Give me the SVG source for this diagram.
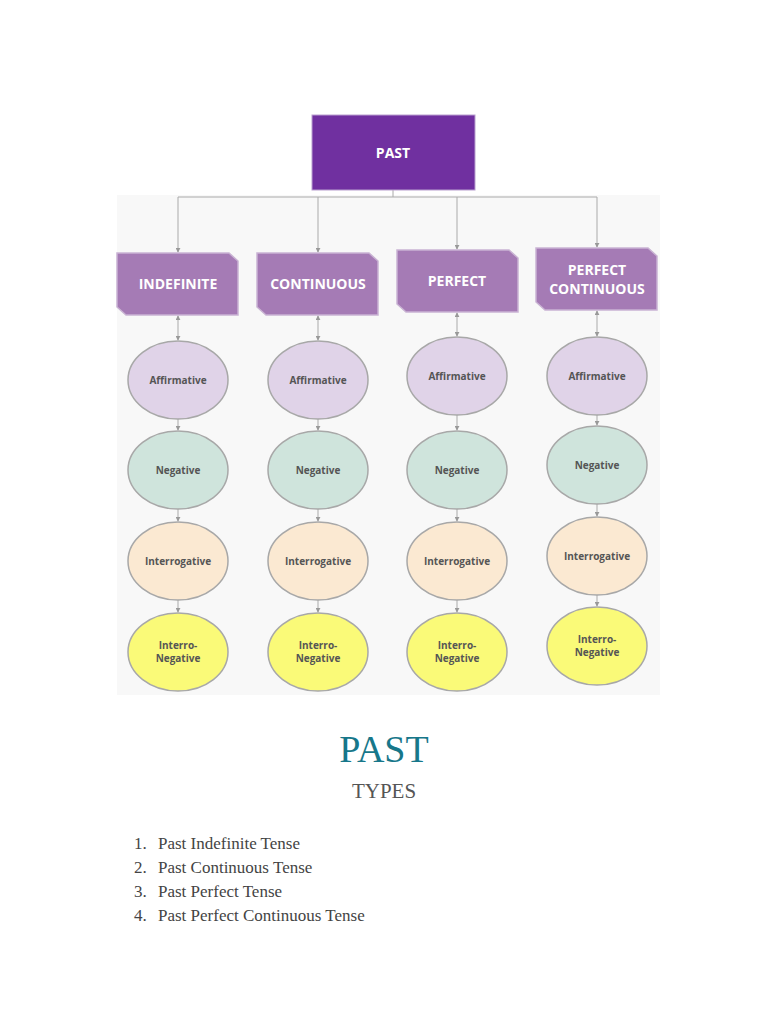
<svg xmlns="http://www.w3.org/2000/svg" width="768" height="1024" viewBox="0 0 768 1024">
<defs>
<marker id="ar" viewBox="0 0 6 6" refX="5" refY="3" markerWidth="5" markerHeight="5" orient="auto-start-reverse"><path d="M0,0L6,3L0,6z" fill="#999"/></marker>
<style>
.c{stroke:#aaa;stroke-width:1;fill:none}
.a{marker-end:url(#ar)}
.b{marker-start:url(#ar);marker-end:url(#ar)}
.box{fill:#a57bb5;stroke:#c9b3d3;stroke-width:1.5}
.bt{font-family:"Open Sans","Liberation Sans",sans-serif;font-weight:700;font-size:14px;fill:#fff;text-anchor:middle}
.e{stroke:#a8a8a8;stroke-width:1.5}
.aff{fill:#e0d3e8}.neg{fill:#cfe4dc}.int{fill:#fbe9d2}.in{fill:#fafa78}
.et{font-family:"Open Sans","Liberation Sans",sans-serif;font-weight:700;font-size:10px;fill:#555;text-anchor:middle}
.l{font-family:"Liberation Serif",serif;font-size:17px;fill:#444}
</style>
</defs>
<rect width="768" height="1024" fill="#fff"/>
<rect x="117" y="195" width="543" height="500" fill="#f8f8f8"/>
<g id="connectors">
<path class="c" d="M393,190V197M178,197H597"/>
<path class="c a" d="M178,197V252"/><path class="c a" d="M318,197V252"/><path class="c a" d="M457,197V249"/><path class="c a" d="M597,197V247"/>
<path class="c b" d="M178,316V340"/><path class="c b" d="M318,316V340"/><path class="c b" d="M457,313V336"/><path class="c b" d="M597,311V336"/>
<path class="c a" d="M178,419V430"/><path class="c a" d="M318,419V430"/><path class="c a" d="M457,415V430"/><path class="c a" d="M597,415V425"/>
<path class="c a" d="M178,509V521"/><path class="c a" d="M318,509V521"/><path class="c a" d="M457,509V521"/><path class="c a" d="M597,504V516"/>
<path class="c a" d="M178,600V612"/><path class="c a" d="M318,600V612"/><path class="c a" d="M457,600V612"/><path class="c a" d="M597,595V606"/>
</g>
<g id="past"><rect x="312" y="115" width="163" height="75" fill="#7030a0" stroke="#b9a0cf"/><text class="bt" x="393" y="158">PAST</text></g>
<g id="indefinite"><path class="box" d="M117,253H229L238,261V315H126L117,307Z"/><text class="bt" x="178" y="289">INDEFINITE</text></g>
<g id="continuous"><path class="box" d="M257,253H369L378,261V315H266L257,307Z"/><text class="bt" x="318" y="289">CONTINUOUS</text></g>
<g id="perfect"><path class="box" d="M397,250H509L518,258V312H406L397,304Z"/><text class="bt" x="457" y="286">PERFECT</text></g>
<g id="perfectcont"><path class="box" d="M536,248H648L657,256V310H545L536,302Z"/><text class="bt" x="597" y="275">PERFECT</text><text class="bt" x="597" y="294">CONTINUOUS</text></g>
<g id="col1">
<ellipse class="e aff" cx="178" cy="380" rx="50" ry="39"/><text class="et" x="178" y="384">Affirmative</text>
<ellipse class="e neg" cx="178" cy="470" rx="50" ry="39"/><text class="et" x="178" y="474">Negative</text>
<ellipse class="e int" cx="178" cy="561" rx="50" ry="39"/><text class="et" x="178" y="565">Interrogative</text>
<ellipse class="e in" cx="178" cy="652" rx="50" ry="39"/><text class="et" x="178" y="649">Interro-</text><text class="et" x="178" y="662">Negative</text>
</g>
<g id="col2">
<ellipse class="e aff" cx="318" cy="380" rx="50" ry="39"/><text class="et" x="318" y="384">Affirmative</text>
<ellipse class="e neg" cx="318" cy="470" rx="50" ry="39"/><text class="et" x="318" y="474">Negative</text>
<ellipse class="e int" cx="318" cy="561" rx="50" ry="39"/><text class="et" x="318" y="565">Interrogative</text>
<ellipse class="e in" cx="318" cy="652" rx="50" ry="39"/><text class="et" x="318" y="649">Interro-</text><text class="et" x="318" y="662">Negative</text>
</g>
<g id="col3">
<ellipse class="e aff" cx="457" cy="376" rx="50" ry="39"/><text class="et" x="457" y="380">Affirmative</text>
<ellipse class="e neg" cx="457" cy="470" rx="50" ry="39"/><text class="et" x="457" y="474">Negative</text>
<ellipse class="e int" cx="457" cy="561" rx="50" ry="39"/><text class="et" x="457" y="565">Interrogative</text>
<ellipse class="e in" cx="457" cy="652" rx="50" ry="39"/><text class="et" x="457" y="649">Interro-</text><text class="et" x="457" y="662">Negative</text>
</g>
<g id="col4">
<ellipse class="e aff" cx="597" cy="376" rx="50" ry="39"/><text class="et" x="597" y="380">Affirmative</text>
<ellipse class="e neg" cx="597" cy="465" rx="50" ry="39"/><text class="et" x="597" y="469">Negative</text>
<ellipse class="e int" cx="597" cy="556" rx="50" ry="39"/><text class="et" x="597" y="560">Interrogative</text>
<ellipse class="e in" cx="597" cy="646" rx="50" ry="39"/><text class="et" x="597" y="643">Interro-</text><text class="et" x="597" y="656">Negative</text>
</g>
<text x="384" y="762" font-family="Liberation Serif,serif" font-size="38" fill="#17778a" text-anchor="middle">PAST</text>
<text x="384" y="798" font-family="Liberation Serif,serif" font-size="21" fill="#555" text-anchor="middle">TYPES</text>
<g class="l">
<text x="134" y="849">1.</text><text x="158" y="849">Past Indefinite Tense</text>
<text x="134" y="873">2.</text><text x="158" y="873">Past Continuous Tense</text>
<text x="134" y="897">3.</text><text x="158" y="897">Past Perfect Tense</text>
<text x="134" y="921">4.</text><text x="158" y="921">Past Perfect Continuous Tense</text>
</g>
</svg>
